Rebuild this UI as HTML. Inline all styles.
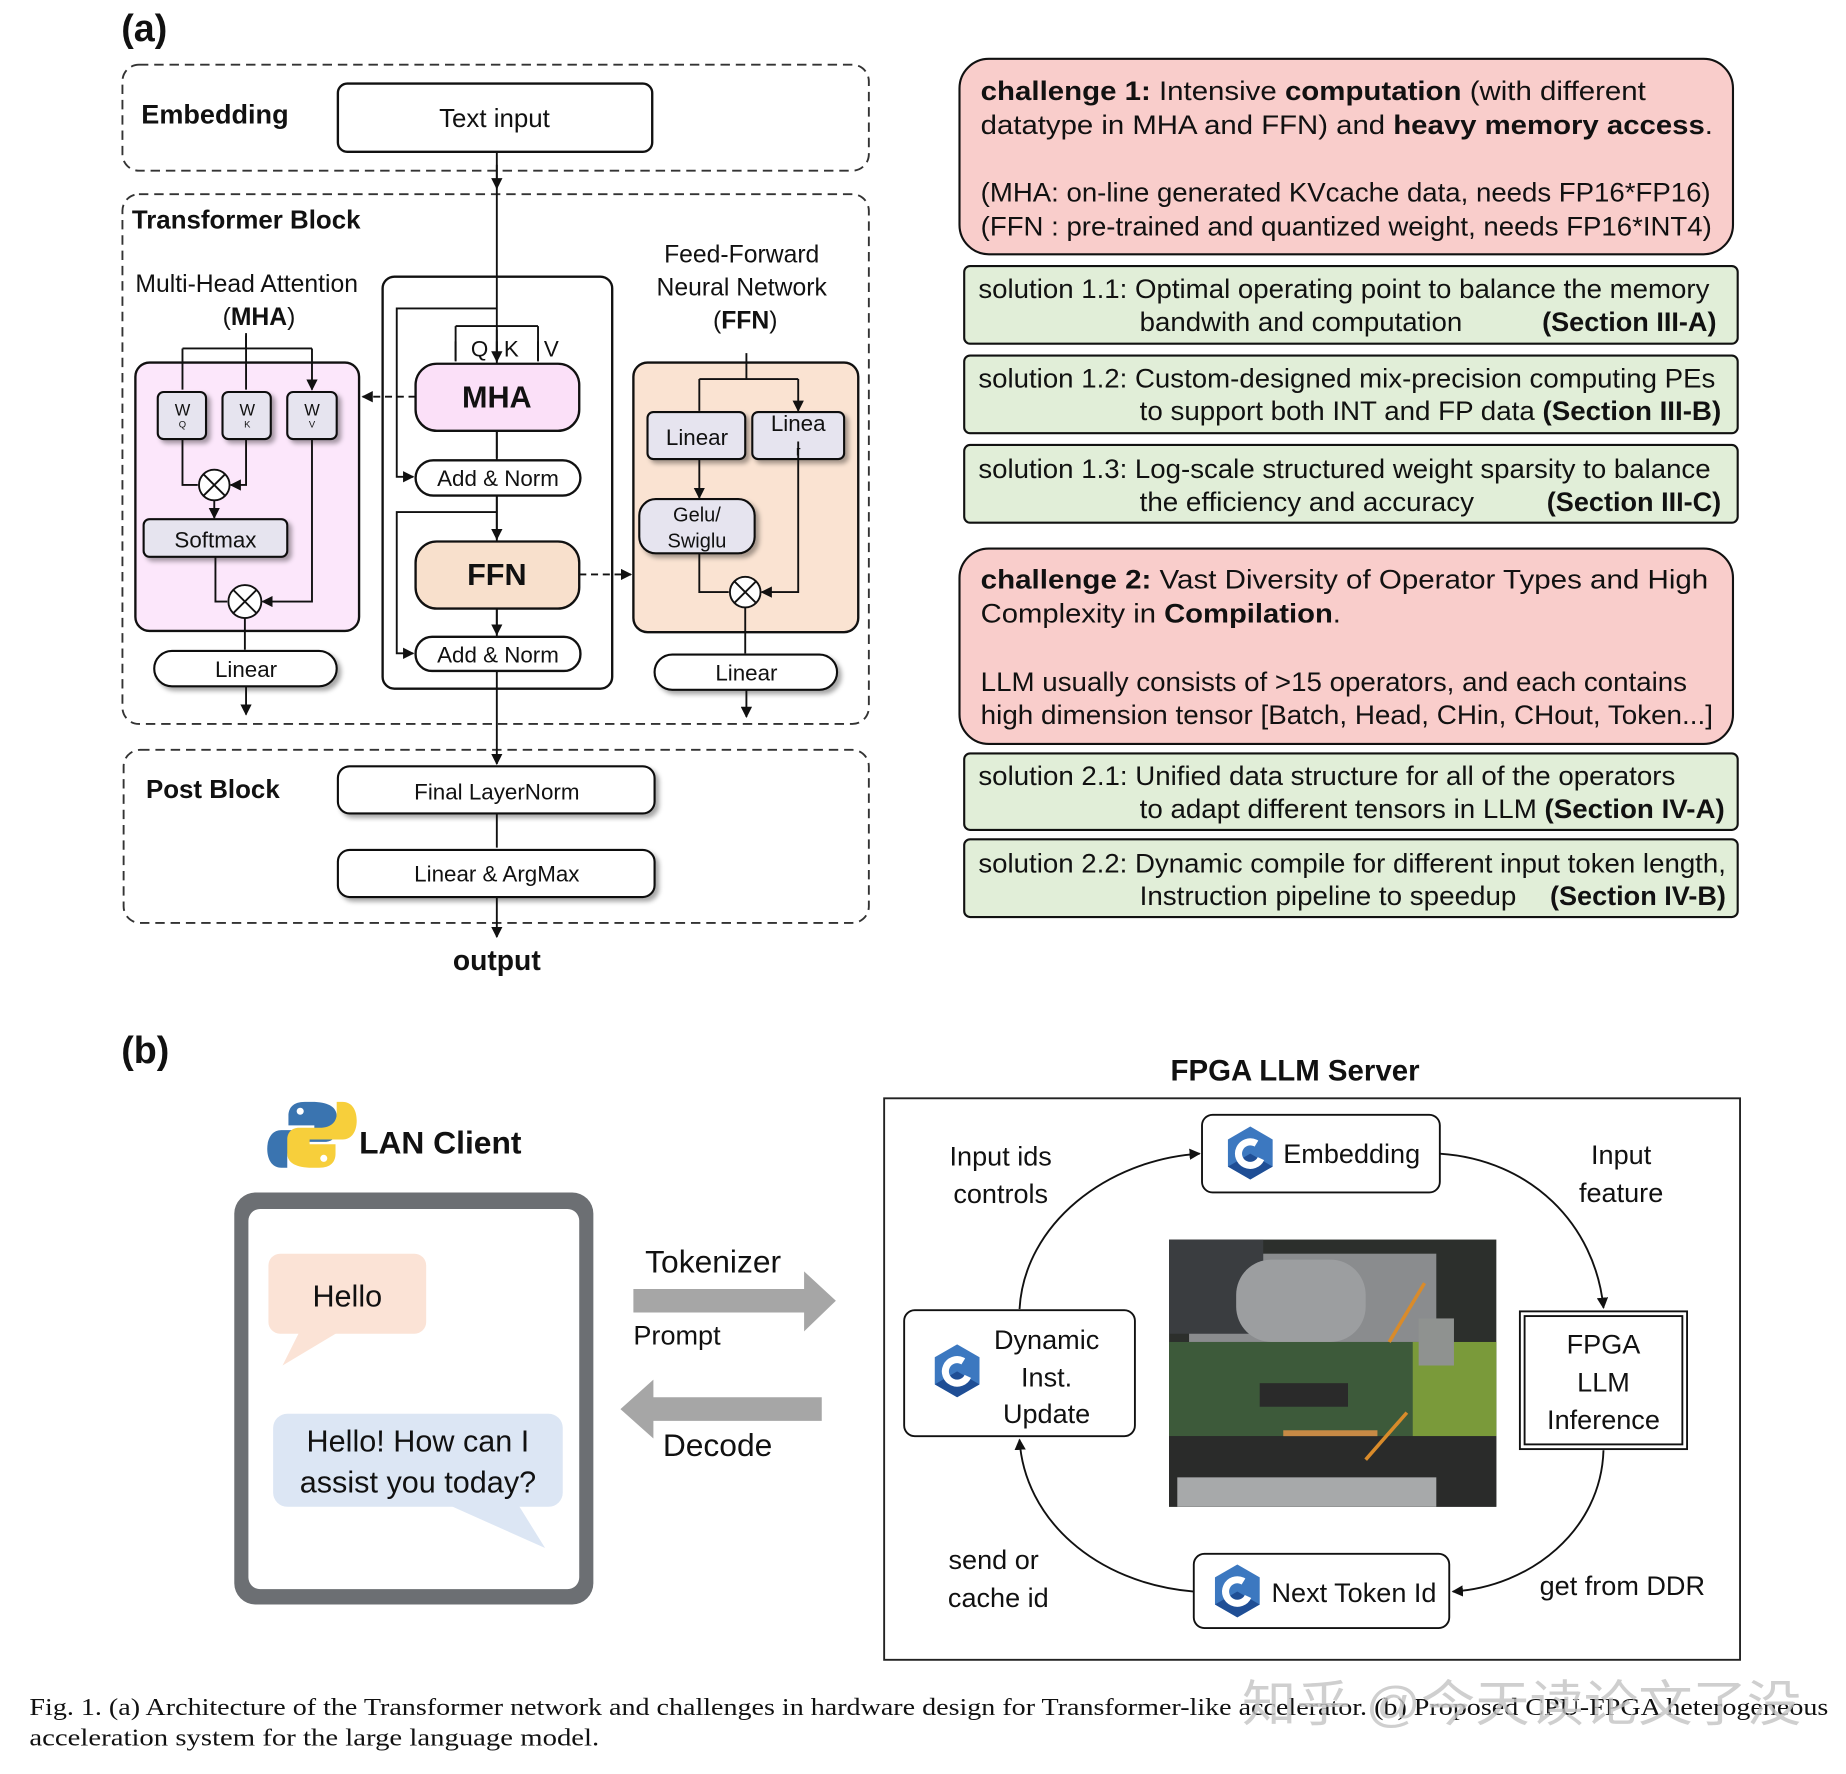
<!DOCTYPE html>
<html><head><meta charset="utf-8"><style>
html,body{margin:0;padding:0;background:#fff;}
svg{display:block;}
text{font-family:"Liberation Sans","Noto Sans CJK SC",sans-serif;fill:#111;}
.b{font-weight:bold;}
.cap{font-family:"Liberation Serif","Noto Serif CJK SC",serif;}
</style></head><body>
<svg width="1846" height="1774" viewBox="0 0 1568 1507" preserveAspectRatio="none" xmlns="http://www.w3.org/2000/svg">
<defs>
<marker id="ar" viewBox="0 0 10 10" refX="9" refY="5" markerWidth="6" markerHeight="6" orient="auto"><path d="M0,0L10,5L0,10z" fill="#111"/></marker>
<filter id="sh" x="-10%" y="-10%" width="130%" height="140%"><feDropShadow dx="3" dy="3" stdDeviation="2" flood-color="#000" flood-opacity="0.35"/></filter>
</defs>
<rect width="1568" height="1507" fill="#fff"/>
<g stroke="#111" fill="none" stroke-width="1.6">
<rect x="104" y="55" width="634" height="90" rx="14" stroke-dasharray="8,5" stroke="#333"/>
<rect x="104" y="165" width="634" height="450" rx="14" stroke-dasharray="8,5" stroke="#333"/>
<rect x="105" y="637" width="633" height="147" rx="14" stroke-dasharray="8,5" stroke="#333"/>
<rect x="287" y="71" width="267" height="58" rx="8" fill="#fff" stroke-width="2"/>
<rect x="325" y="235" width="195" height="350" rx="10" stroke-width="2"/>
<path d="M422,129V649" marker-end="url(#ar)"/>
<path d="M422,140V160" marker-end="url(#ar)"/>
<path d="M387,277H457M387,277V306M457,277V306M422,280V306" />
<path d="M387,290V307M457,290V307M422,290V307" marker-end="url(#ar)"/>
<path d="M422,262H337V405H351" marker-end="url(#ar)"/>
<path d="M422,435H337V555H351" marker-end="url(#ar)"/>
<rect x="538" y="308" width="191" height="229" rx="12" fill="#fae3d2" stroke-width="2"/>
<rect x="115" y="308" width="190" height="228" rx="12" fill="#fce7fb" stroke-width="2"/>
<rect x="353" y="309" width="139" height="57" rx="18" fill="#fbe0f8" stroke-width="2"/>
<path d="M353,337H308" stroke-dasharray="6,4" marker-end="url(#ar)"/>
<rect x="353" y="391" width="140" height="30" rx="15" fill="#fff" stroke-width="2"/>
<path d="M422,366V389M422,421V458" marker-end="url(#ar)"/>
<rect x="353" y="460" width="139" height="57" rx="18" fill="#f8e0cc" stroke-width="2"/>
<path d="M492,488H536" stroke-dasharray="6,4" marker-end="url(#ar)"/>
<rect x="353" y="541" width="140" height="29" rx="14" fill="#fff" stroke-width="2"/>
<path d="M422,517V539" marker-end="url(#ar)"/>
<path d="M209,283V296M155,296H265"/>
<path d="M155,296V331M209,285V331M265,296V331" marker-end="url(#ar)"/>
<g fill="#e6e4ef" filter="url(#sh)" stroke-width="1.8">
<rect x="134" y="333" width="41" height="40" rx="5"/>
<rect x="189" y="333" width="41" height="40" rx="5"/>
<rect x="244" y="333" width="42" height="40" rx="5"/>
<rect x="122" y="441" width="122" height="32" rx="5"/>
<rect x="550" y="350" width="83" height="40" rx="5"/>
<rect x="639" y="350" width="78" height="40" rx="5"/>
<rect x="543" y="424" width="98" height="46" rx="14"/>
<rect x="131" y="553" width="155" height="30" rx="15" fill="#fff"/>
<rect x="556" y="556" width="155" height="30" rx="15" fill="#fff"/>
<rect x="287" y="651" width="269" height="40" rx="10" fill="#fff"/>
<rect x="287" y="722" width="269" height="40" rx="10" fill="#fff"/>
</g>
<path d="M155,373V412H168M209,373V412H196" marker-end="url(#ar)"/>
<circle cx="182" cy="412" r="13" fill="#fff"/>
<path d="M173,403L191,421M191,403L173,421"/>
<path d="M182,425V440" marker-end="url(#ar)"/>
<path d="M183,473V511H193M265,373V511H223" marker-end="url(#ar)"/>
<circle cx="208" cy="511" r="14" fill="#fff"/>
<path d="M198,501L218,521M218,501L198,521"/>
<path d="M208,525V552M209,583V607" marker-end="url(#ar)"/>
<path d="M634,300V322M594,322H678"/>
<path d="M594,322V349M678,322V349" marker-end="url(#ar)"/>
<path d="M594,390V423" marker-end="url(#ar)"/>
<path d="M594,470V503H619M678,375V503H647" marker-end="url(#ar)"/>
<circle cx="633" cy="503" r="13" fill="#fff"/>
<path d="M624,494L642,512M642,494L624,512"/>
<path d="M633,516V555M634,586V609" marker-end="url(#ar)"/>
<path d="M422,691V720M422,762V796" marker-end="url(#ar)"/>
<rect x="815" y="50" width="657" height="166" rx="25" fill="#f9cdcb" stroke-width="1.8"/>
<rect x="819" y="226" width="657" height="66" rx="5" fill="#e1eed8" stroke-width="1.8"/>
<rect x="819" y="302" width="657" height="66" rx="5" fill="#e1eed8" stroke-width="1.8"/>
<rect x="819" y="378" width="657" height="66" rx="5" fill="#e1eed8" stroke-width="1.8"/>
<rect x="815" y="466" width="657" height="166" rx="25" fill="#f9cdcb" stroke-width="1.8"/>
<rect x="819" y="640" width="657" height="65" rx="5" fill="#e1eed8" stroke-width="1.8"/>
<rect x="819" y="713" width="657" height="66" rx="5" fill="#e1eed8" stroke-width="1.8"/>
</g>
<g font-size="21">
<text x="103" y="35" font-size="32" class="b">(a)</text>
<text x="120" y="105" font-size="23" class="b">Embedding</text>
<text x="420" y="108" text-anchor="middle" font-size="22">Text input</text>
<text x="112" y="194" font-size="22" class="b">Transformer Block</text>
<text x="115" y="248" font-size="21">Multi-Head Attention</text>
<text x="220" y="276" text-anchor="middle" font-size="21">(<tspan class="b">MHA</tspan>)</text>
<text x="630" y="223" text-anchor="middle">Feed-Forward</text>
<text x="630" y="251" text-anchor="middle">Neural Network</text>
<text x="633" y="279" text-anchor="middle">(<tspan class="b">FFN</tspan>)</text>
<text x="400" y="303" font-size="19">Q</text><text x="428" y="303" font-size="19">K</text><text x="462" y="303" font-size="19">V</text>
<text x="422" y="346" text-anchor="middle" font-size="26" class="b">MHA</text>
<text x="423" y="413" text-anchor="middle" font-size="19">Add &amp; Norm</text>
<text x="422" y="497" text-anchor="middle" font-size="26" class="b">FFN</text>
<text x="423" y="563" text-anchor="middle" font-size="19">Add &amp; Norm</text>
<text x="155" y="353" text-anchor="middle" font-size="14">W</text><text x="155" y="363" text-anchor="middle" font-size="8">Q</text>
<text x="210" y="353" text-anchor="middle" font-size="14">W</text><text x="210" y="363" text-anchor="middle" font-size="8">K</text>
<text x="265" y="353" text-anchor="middle" font-size="14">W</text><text x="265" y="363" text-anchor="middle" font-size="8">V</text>
<text x="183" y="465" text-anchor="middle" font-size="19">Softmax</text>
<text x="209" y="575" text-anchor="middle" font-size="19">Linear</text>
<text x="592" y="378" text-anchor="middle" font-size="19">Linear</text>
<text x="678" y="366" text-anchor="middle" font-size="19">Linea</text>
<text x="678" y="387" text-anchor="middle" font-size="12">r</text>
<text x="592" y="443" text-anchor="middle" font-size="17">Gelu/</text>
<text x="592" y="465" text-anchor="middle" font-size="17">Swiglu</text>
<text x="634" y="578" text-anchor="middle" font-size="19">Linear</text>
<text x="124" y="678" font-size="22" class="b">Post Block</text>
<text x="422" y="679" text-anchor="middle" font-size="19">Final LayerNorm</text>
<text x="422" y="749" text-anchor="middle" font-size="19">Linear &amp; ArgMax</text>
<text x="422" y="824" text-anchor="middle" font-size="24" class="b">output</text>
</g>
<g font-size="23">
<text x="833" y="85" textLength="565" lengthAdjust="spacingAndGlyphs"><tspan class="b">challenge 1:</tspan> Intensive <tspan class="b">computation</tspan> (with different</text>
<text x="833" y="114" textLength="622" lengthAdjust="spacingAndGlyphs">datatype in MHA and FFN) and <tspan class="b">heavy memory access</tspan>.</text>
<text x="833" y="171" textLength="620" lengthAdjust="spacingAndGlyphs">(MHA: on-line generated KVcache data, needs FP16*FP16)</text>
<text x="833" y="200" textLength="621" lengthAdjust="spacingAndGlyphs">(FFN : pre-trained and quantized weight, needs FP16*INT4)</text>
<text x="831" y="253" textLength="621" lengthAdjust="spacingAndGlyphs">solution 1.1: Optimal operating point to balance the memory</text>
<text x="968" y="281" textLength="274" lengthAdjust="spacingAndGlyphs">bandwith and computation</text>
<text x="1458" y="281" text-anchor="end" class="b">(Section III-A)</text>
<text x="831" y="329" textLength="626" lengthAdjust="spacingAndGlyphs">solution 1.2: Custom-designed mix-precision computing PEs</text>
<text x="968" y="357" textLength="494" lengthAdjust="spacingAndGlyphs">to support both INT and FP data <tspan class="b">(Section III-B)</tspan></text>
<text x="831" y="406" textLength="622" lengthAdjust="spacingAndGlyphs">solution 1.3: Log-scale structured weight sparsity to balance</text>
<text x="968" y="434" textLength="284" lengthAdjust="spacingAndGlyphs">the efficiency and accuracy</text>
<text x="1462" y="434" text-anchor="end" class="b">(Section III-C)</text>
<text x="833" y="500" textLength="618" lengthAdjust="spacingAndGlyphs"><tspan class="b">challenge 2:</tspan> Vast Diversity of Operator Types and High</text>
<text x="833" y="529" textLength="306" lengthAdjust="spacingAndGlyphs">Complexity in <tspan class="b">Compilation</tspan>.</text>
<text x="833" y="587" textLength="600" lengthAdjust="spacingAndGlyphs">LLM usually consists of &gt;15 operators, and each contains</text>
<text x="833" y="615" textLength="622" lengthAdjust="spacingAndGlyphs">high dimension tensor [Batch, Head, CHin, CHout, Token...]</text>
<text x="831" y="667" textLength="592" lengthAdjust="spacingAndGlyphs">solution 2.1: Unified data structure for all of the operators</text>
<text x="968" y="695" textLength="497" lengthAdjust="spacingAndGlyphs">to adapt different tensors in LLM <tspan class="b">(Section IV-A)</tspan></text>
<text x="831" y="741" textLength="635" lengthAdjust="spacingAndGlyphs">solution 2.2: Dynamic compile for different input token length,</text>
<text x="968" y="769" textLength="320" lengthAdjust="spacingAndGlyphs">Instruction pipeline to speedup</text>
<text x="1466" y="769" text-anchor="end" class="b">(Section IV-B)</text>
</g>
<text x="103" y="903" font-size="32" class="b">(b)</text>
<text x="1100" y="918" text-anchor="middle" font-size="25" class="b">FPGA LLM Server</text>
<rect x="751" y="933" width="727" height="477" fill="none" stroke="#222" stroke-width="1.6"/>
<path d="M265,936h-6c-10,0-14,5-14,12v8h22v4h-28c-8,0-12,7-12,16c0,9,4,16,12,16h5v-10c0-8,6-12,14-12h18c6,0,10-4,10-10v-12c0-8-8-12-21-12z" fill="#3a74b0"/>
<path d="M265,992h6c10,0,14-5,14-12v-8h-22v-4h28c8,0,12-7,12-16c0-9-4-16-12-16h-5v10c0,8-6,12-14,12h-18c-6,0-10,4-10,10v12c0,8,8,12,21,12z" fill="#f7cf3b"/>
<circle cx="255" cy="944" r="3" fill="#fff"/>
<circle cx="275" cy="984" r="3" fill="#fff"/>
<text x="305" y="980" font-size="27" class="b">LAN Client</text>
<rect x="199" y="1013" width="305" height="350" rx="18" fill="#6c6f73"/>
<rect x="211" y="1027" width="281" height="323" rx="10" fill="#fff"/>
<rect x="228" y="1065" width="134" height="68" rx="10" fill="#fbe3d6"/>
<path d="M255,1130L240,1160L290,1130z" fill="#fbe3d6"/>
<text x="295" y="1110" text-anchor="middle" font-size="26">Hello</text>
<rect x="232" y="1201" width="246" height="79" rx="12" fill="#dce6f4"/>
<path d="M380,1278L463,1315L440,1278z" fill="#dce6f4"/>
<text x="355" y="1233" text-anchor="middle" font-size="26">Hello! How can I</text>
<text x="355" y="1268" text-anchor="middle" font-size="26">assist you today?</text>
<text x="548" y="1081" font-size="27">Tokenizer</text>
<path d="M538,1095H683V1080L710,1105L683,1131V1115H538z" fill="#a6a6a6"/>
<text x="538" y="1142" font-size="23">Prompt</text>
<path d="M698,1187H555V1172L527,1197L555,1222V1207H698z" fill="#a6a6a6"/>
<text x="563" y="1237" font-size="27">Decode</text>
<g fill="none" stroke="#111" stroke-width="1.6">
<path d="M866,1112C870,1040 940,985 1019,980" marker-end="url(#ar)"/>
<path d="M1223,980C1300,985 1355,1040 1362,1111" marker-end="url(#ar)"/>
<path d="M1362,1232C1360,1300 1300,1348 1234,1352" marker-end="url(#ar)"/>
<path d="M1014,1352C930,1345 870,1290 866,1223" marker-end="url(#ar)"/>
<rect x="1021" y="947" width="202" height="66" rx="9" fill="#fff"/>
<rect x="768" y="1113" width="196" height="107" rx="9" fill="#fff"/>
<rect x="1014" y="1320" width="217" height="63" rx="9" fill="#fff"/>
<rect x="1291" y="1114" width="142" height="117" fill="#fff"/>
<rect x="1295" y="1118" width="134" height="109"/>
</g>
<g>
<path d="M1062,957l19,11v23l-19,11l-19,-11v-23z" fill="#3c78c0"/>
<path d="M1062,980l19,11l-19,11l-19,-11z" fill="#1f4e95"/>
<circle cx="1062" cy="980" r="10" fill="none" stroke="#fff" stroke-width="6" stroke-dasharray="48,20" transform="rotate(25 1062 980)"/>
<path d="M813,1142l19,11v23l-19,11l-19,-11v-23z" fill="#3c78c0"/>
<path d="M813,1165l19,11l-19,11l-19,-11z" fill="#1f4e95"/>
<circle cx="813" cy="1165" r="10" fill="none" stroke="#fff" stroke-width="6" stroke-dasharray="48,20" transform="rotate(25 813 1165)"/>
<path d="M1051,1329l19,11v23l-19,11l-19,-11v-23z" fill="#3c78c0"/>
<path d="M1051,1352l19,11l-19,11l-19,-11z" fill="#1f4e95"/>
<circle cx="1051" cy="1352" r="10" fill="none" stroke="#fff" stroke-width="6" stroke-dasharray="48,20" transform="rotate(25 1051 1352)"/>
</g>
<text x="1090" y="988" font-size="23">Embedding</text>
<text x="889" y="1146" text-anchor="middle" font-size="23">Dynamic</text>
<text x="889" y="1178" text-anchor="middle" font-size="23">Inst.</text>
<text x="889" y="1209" text-anchor="middle" font-size="23">Update</text>
<text x="1362" y="1150" text-anchor="middle" font-size="23">FPGA</text>
<text x="1362" y="1182" text-anchor="middle" font-size="23">LLM</text>
<text x="1362" y="1214" text-anchor="middle" font-size="23">Inference</text>
<text x="1080" y="1361" font-size="23">Next Token Id</text>
<text x="850" y="990" text-anchor="middle" font-size="23">Input ids</text>
<text x="850" y="1022" text-anchor="middle" font-size="23">controls</text>
<text x="1377" y="989" text-anchor="middle" font-size="23">Input</text>
<text x="1377" y="1021" text-anchor="middle" font-size="23">feature</text>
<text x="844" y="1333" text-anchor="middle" font-size="23">send or</text>
<text x="848" y="1365" text-anchor="middle" font-size="23">cache id</text>
<text x="1378" y="1355" text-anchor="middle" font-size="23">get from DDR</text>
<g>
<rect x="993" y="1053" width="278" height="227" fill="#2c2f2c"/>
<rect x="1010" y="1065" width="210" height="75" fill="#8a8c8e"/>
<path d="M993,1053h80v80h-80z" fill="#3a3d40"/>
<rect x="1050" y="1070" width="110" height="70" rx="30" fill="#9c9ea0"/>
<rect x="993" y="1140" width="278" height="80" fill="#3d5a3a"/>
<rect x="1200" y="1140" width="71" height="80" fill="#7a9a3a"/>
<rect x="1205" y="1120" width="30" height="40" fill="#8f9290"/>
<rect x="1070" y="1175" width="75" height="20" fill="#2a2a2a"/>
<rect x="1090" y="1215" width="80" height="12" fill="#c78a45"/>
<rect x="993" y="1220" width="278" height="60" fill="#2a2b2a"/>
<rect x="1000" y="1255" width="220" height="25" fill="#a7a9aa"/>
<path d="M1180,1140L1210,1090" stroke="#d98b2a" stroke-width="3"/>
<path d="M1160,1240L1195,1200" stroke="#d98b2a" stroke-width="3"/>
</g>
<text x="25" y="1457" font-size="21" class="cap" textLength="1528" lengthAdjust="spacingAndGlyphs">Fig. 1.   (a) Architecture of the Transformer network and challenges in hardware design for Transformer-like accelerator. (b) Proposed CPU-FPGA heterogeneous</text>
<text x="25" y="1483" font-size="21" class="cap" textLength="484" lengthAdjust="spacingAndGlyphs">acceleration system for the large language model.</text>
<text x="1055" y="1462" font-size="42" style="fill:#c4c4c4;opacity:0.8" textLength="475" lengthAdjust="spacingAndGlyphs">知乎 @今天读论文了没</text>
</svg>
</body></html>
